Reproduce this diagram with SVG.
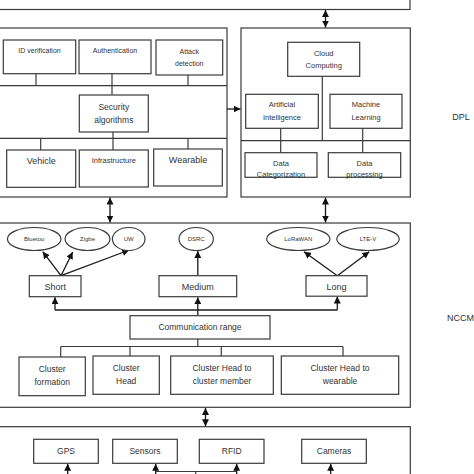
<svg xmlns="http://www.w3.org/2000/svg" width="474" height="474" viewBox="0 0 474 474">
<style>
.b{fill:#fff;stroke:#3a3a3a;stroke-width:1.2}
.l{fill:none;stroke:#3a3a3a;stroke-width:1.2}
.a{fill:none;stroke:#1a1a1a;stroke-width:1.3}
text{font-family:"Liberation Sans",Arial,sans-serif;fill:#333;text-anchor:middle}
.s6{font-size:6px}.s7{font-size:7px}.s75{font-size:7.5px}.s8{font-size:8.5px}.s9{font-size:9px}
</style>
<defs>
<marker id="ah" viewBox="0 0 8 8" refX="8" refY="4" markerWidth="7" markerHeight="7" markerUnits="userSpaceOnUse" orient="auto-start-reverse"><path d="M0,0 L8,4 L0,8z" fill="#111"/></marker>
</defs>
<rect x="0" y="0" width="474" height="474" fill="#fff"/>

<g id="frames">
<rect class="b" x="-2" y="-20" width="412" height="29.5"/>
<rect class="b" x="-1" y="28" width="228" height="169"/>
<rect class="b" x="241" y="28" width="169.3" height="169"/>
<rect class="b" x="-1" y="223" width="411.3" height="184.3"/>
<rect class="b" x="-1" y="426.7" width="411.3" height="60"/>
</g>

<g id="connectors">
<!-- security internal -->
<line class="l" x1="-1" y1="85.7" x2="227" y2="85.7"/>
<line class="l" x1="36" y1="73.7" x2="36" y2="85.7"/>
<line class="l" x1="112" y1="73.7" x2="112" y2="95"/>
<line class="l" x1="188" y1="75" x2="188" y2="85.7"/>
<line class="l" x1="-1" y1="138.3" x2="227" y2="138.3"/>
<line class="l" x1="113" y1="132" x2="113" y2="138.3"/>
<line class="l" x1="40.7" y1="138.3" x2="40.7" y2="150"/>
<line class="l" x1="113" y1="138.3" x2="113" y2="150"/>
<line class="l" x1="188" y1="138.3" x2="188" y2="149"/>
<!-- DPL internal -->
<line class="l" x1="241" y1="140.7" x2="410.3" y2="140.7"/>
<line class="l" x1="322.3" y1="76.3" x2="322.3" y2="140.7"/>
<line class="l" x1="280.7" y1="128.3" x2="280.7" y2="152.7"/>
<line class="l" x1="362.7" y1="128.3" x2="362.7" y2="152.7"/>
<!-- layer arrows -->
<line class="a" x1="325.5" y1="10" x2="325.5" y2="27.5" marker-start="url(#ah)" marker-end="url(#ah)"/>
<line class="a" x1="227" y1="109" x2="240.5" y2="109" marker-end="url(#ah)"/>
<line class="a" x1="110" y1="197.5" x2="110" y2="222.5" marker-start="url(#ah)" marker-end="url(#ah)"/>
<line class="a" x1="325.5" y1="197.5" x2="325.5" y2="222.5" marker-start="url(#ah)" marker-end="url(#ah)"/>
<line class="a" x1="205.5" y1="408" x2="205.5" y2="426.2" marker-start="url(#ah)" marker-end="url(#ah)"/>
<!-- range arrows -->
<line class="a" x1="61" y1="275.7" x2="42.7" y2="251.7" marker-end="url(#ah)"/>
<line class="a" x1="61" y1="275.7" x2="72.7" y2="252" marker-end="url(#ah)"/>
<line class="a" x1="61" y1="275.7" x2="129.3" y2="250" marker-end="url(#ah)"/>
<line class="a" x1="197.8" y1="275.7" x2="197.8" y2="251" marker-end="url(#ah)"/>
<line class="a" x1="337.3" y1="275.7" x2="304" y2="251.7" marker-end="url(#ah)"/>
<line class="a" x1="337.3" y1="275.7" x2="369.3" y2="251.7" marker-end="url(#ah)"/>
<polyline class="a" points="55,310 337.3,310"/>
<line class="a" x1="55" y1="310" x2="55" y2="297.2" marker-end="url(#ah)"/>
<line class="a" x1="337.3" y1="310" x2="337.3" y2="296.5" marker-end="url(#ah)"/>
<line class="a" x1="197.8" y1="315.7" x2="197.8" y2="297.2" marker-end="url(#ah)"/>
<!-- cluster tree -->
<line class="l" x1="197.8" y1="339" x2="197.8" y2="346.5"/>
<line class="l" x1="60.7" y1="346.5" x2="343" y2="346.5"/>
<line class="l" x1="60.7" y1="346.5" x2="60.7" y2="357"/>
<line class="l" x1="130" y1="346.5" x2="130" y2="356"/>
<line class="l" x1="221.3" y1="346.5" x2="221.3" y2="356"/>
<line class="l" x1="343" y1="346.5" x2="343" y2="356"/>
<!-- bottom -->
<line class="a" x1="67.7" y1="475" x2="67.7" y2="463.8" marker-end="url(#ah)"/>
<line class="a" x1="155.7" y1="475" x2="155.7" y2="463.8" marker-end="url(#ah)"/>
<line class="a" x1="236.7" y1="475" x2="236.7" y2="463.8" marker-end="url(#ah)"/>
<line class="a" x1="330.7" y1="475" x2="330.7" y2="463.8" marker-end="url(#ah)"/>
<line class="l" x1="155.7" y1="471.5" x2="236.7" y2="471.5" stroke="#555" stroke-width="2"/>
<line class="l" x1="195.7" y1="471.5" x2="195.7" y2="475"/>
</g>

<g id="n-idver"><rect class="b" x="3.3" y="40" width="72.4" height="33.7"/><text class="s7" x="39.5" y="52.5">ID verification</text></g>
<g id="n-auth"><rect class="b" x="79" y="40" width="72" height="33.7"/><text class="s7" x="115" y="52.5">Authentication</text></g>
<g id="n-attack"><rect class="b" x="156" y="40" width="66.7" height="35"/><text class="s7" x="189.3" y="53.5">Attack</text><text class="s7" x="189.3" y="65.5">detection</text></g>
<g id="n-secalg"><rect class="b" x="79.3" y="95" width="69" height="37"/><text class="s8" x="113.8" y="110">Security</text><text class="s8" x="113.8" y="123">algorithms</text></g>
<g id="n-vehicle"><rect class="b" x="6.7" y="150" width="69" height="37.3"/><text class="s9" x="41.2" y="164">Vehicle</text></g>
<g id="n-infra"><rect class="b" x="79.3" y="150" width="69" height="37"/><text class="s75" x="113.8" y="162.5">Infrastructure</text></g>
<g id="n-wear"><rect class="b" x="153.7" y="149" width="68.6" height="37"/><text class="s9" x="188" y="163">Wearable</text></g>

<g id="n-cloud"><rect class="b" x="287.7" y="42.3" width="72" height="34"/><text class="s75" x="323.7" y="55.7">Cloud</text><text class="s75" x="323.7" y="67.8">Computing</text></g>
<g id="n-ai"><rect class="b" x="245.7" y="94.3" width="72.6" height="34"/><text class="s75" x="282" y="107">Artificial</text><text class="s75" x="282" y="119.7">Intelligence</text></g>
<g id="n-ml"><rect class="b" x="330" y="94.3" width="72" height="34"/><text class="s75" x="366" y="107">Machine</text><text class="s75" x="366" y="119.7">Learning</text></g>
<g id="n-datacat"><rect class="b" x="245" y="152.7" width="72" height="24.6"/><text class="s75" x="281" y="165.5">Data</text><text class="s75" x="281" y="176.8">Categorization</text></g>
<g id="n-dataproc"><rect class="b" x="328.3" y="152.7" width="72.4" height="24.6"/><text class="s75" x="364.5" y="165.5">Data</text><text class="s75" x="364.5" y="176.8">processing</text></g>
<text class="s9" x="461" y="120" id="lbl-dpl">DPL</text>

<g id="n-bluetoo"><ellipse class="b" cx="34.2" cy="239" rx="26.8" ry="11.5"/><text class="s6" x="34.2" y="241">Bluetoo</text></g>
<g id="n-zigbe"><ellipse class="b" cx="87.5" cy="239" rx="22.5" ry="11.5"/><text class="s6" x="87.5" y="241">Zigbe</text></g>
<g id="n-uw"><ellipse class="b" cx="128.7" cy="239" rx="16.3" ry="11.5"/><text class="s6" x="128.7" y="241">UW</text></g>
<g id="n-dsrc"><ellipse class="b" cx="196.2" cy="239" rx="17.2" ry="11.5"/><text class="s6" x="196.2" y="241">DSRC</text></g>
<g id="n-lorawan"><ellipse class="b" cx="298.3" cy="239" rx="31.7" ry="11.5"/><text class="s6" x="298.3" y="241">LoRaWAN</text></g>
<g id="n-ltev"><ellipse class="b" cx="368" cy="239" rx="31.3" ry="11.5"/><text class="s6" x="368" y="241">LTE-V</text></g>
<g id="n-short"><rect class="b" x="29.3" y="275.7" width="51.7" height="21"/><text class="s9" x="55.2" y="289.8">Short</text></g>
<g id="n-medium"><rect class="b" x="159" y="275.7" width="77.7" height="21"/><text class="s9" x="197.8" y="289.8">Medium</text></g>
<g id="n-long"><rect class="b" x="306" y="275.7" width="61" height="20.5"/><text class="s9" x="336.5" y="289.8">Long</text></g>
<g id="n-comm"><rect class="b" x="130" y="315.7" width="140" height="23.3"/><text class="s8" x="200" y="330">Communication range</text></g>
<g id="n-cform"><rect class="b" x="19" y="357" width="66.3" height="38.7"/><text class="s8" x="52.2" y="372">Cluster</text><text class="s8" x="52.2" y="384.7">formation</text></g>
<g id="n-chead"><rect class="b" x="93" y="356" width="66.3" height="38.3"/><text class="s8" x="126.2" y="370.7">Cluster</text><text class="s8" x="126.2" y="384">Head</text></g>
<g id="n-chmem"><rect class="b" x="170.7" y="356" width="102.6" height="38.3"/><text class="s8" x="222" y="370.7">Cluster Head to</text><text class="s8" x="222" y="384">cluster member</text></g>
<g id="n-chwear"><rect class="b" x="281.3" y="356" width="117.4" height="38.3"/><text class="s8" x="340" y="370.7">Cluster Head to</text><text class="s8" x="340" y="384">wearable</text></g>
<text class="s9" x="447" y="321" style="text-anchor:start" id="lbl-nccm">NCCM</text>

<g id="n-gps"><rect class="b" x="33.7" y="439.3" width="64.6" height="24"/><text class="s8" x="66" y="454">GPS</text></g>
<g id="n-sensors"><rect class="b" x="112.7" y="439.3" width="64.6" height="24"/><text class="s8" x="145" y="454">Sensors</text></g>
<g id="n-rfid"><rect class="b" x="199.3" y="439.3" width="64.7" height="24"/><text class="s8" x="231.7" y="454">RFID</text></g>
<g id="n-cameras"><rect class="b" x="301.7" y="439.3" width="64.6" height="24"/><text class="s8" x="334" y="454">Cameras</text></g>
</svg>
